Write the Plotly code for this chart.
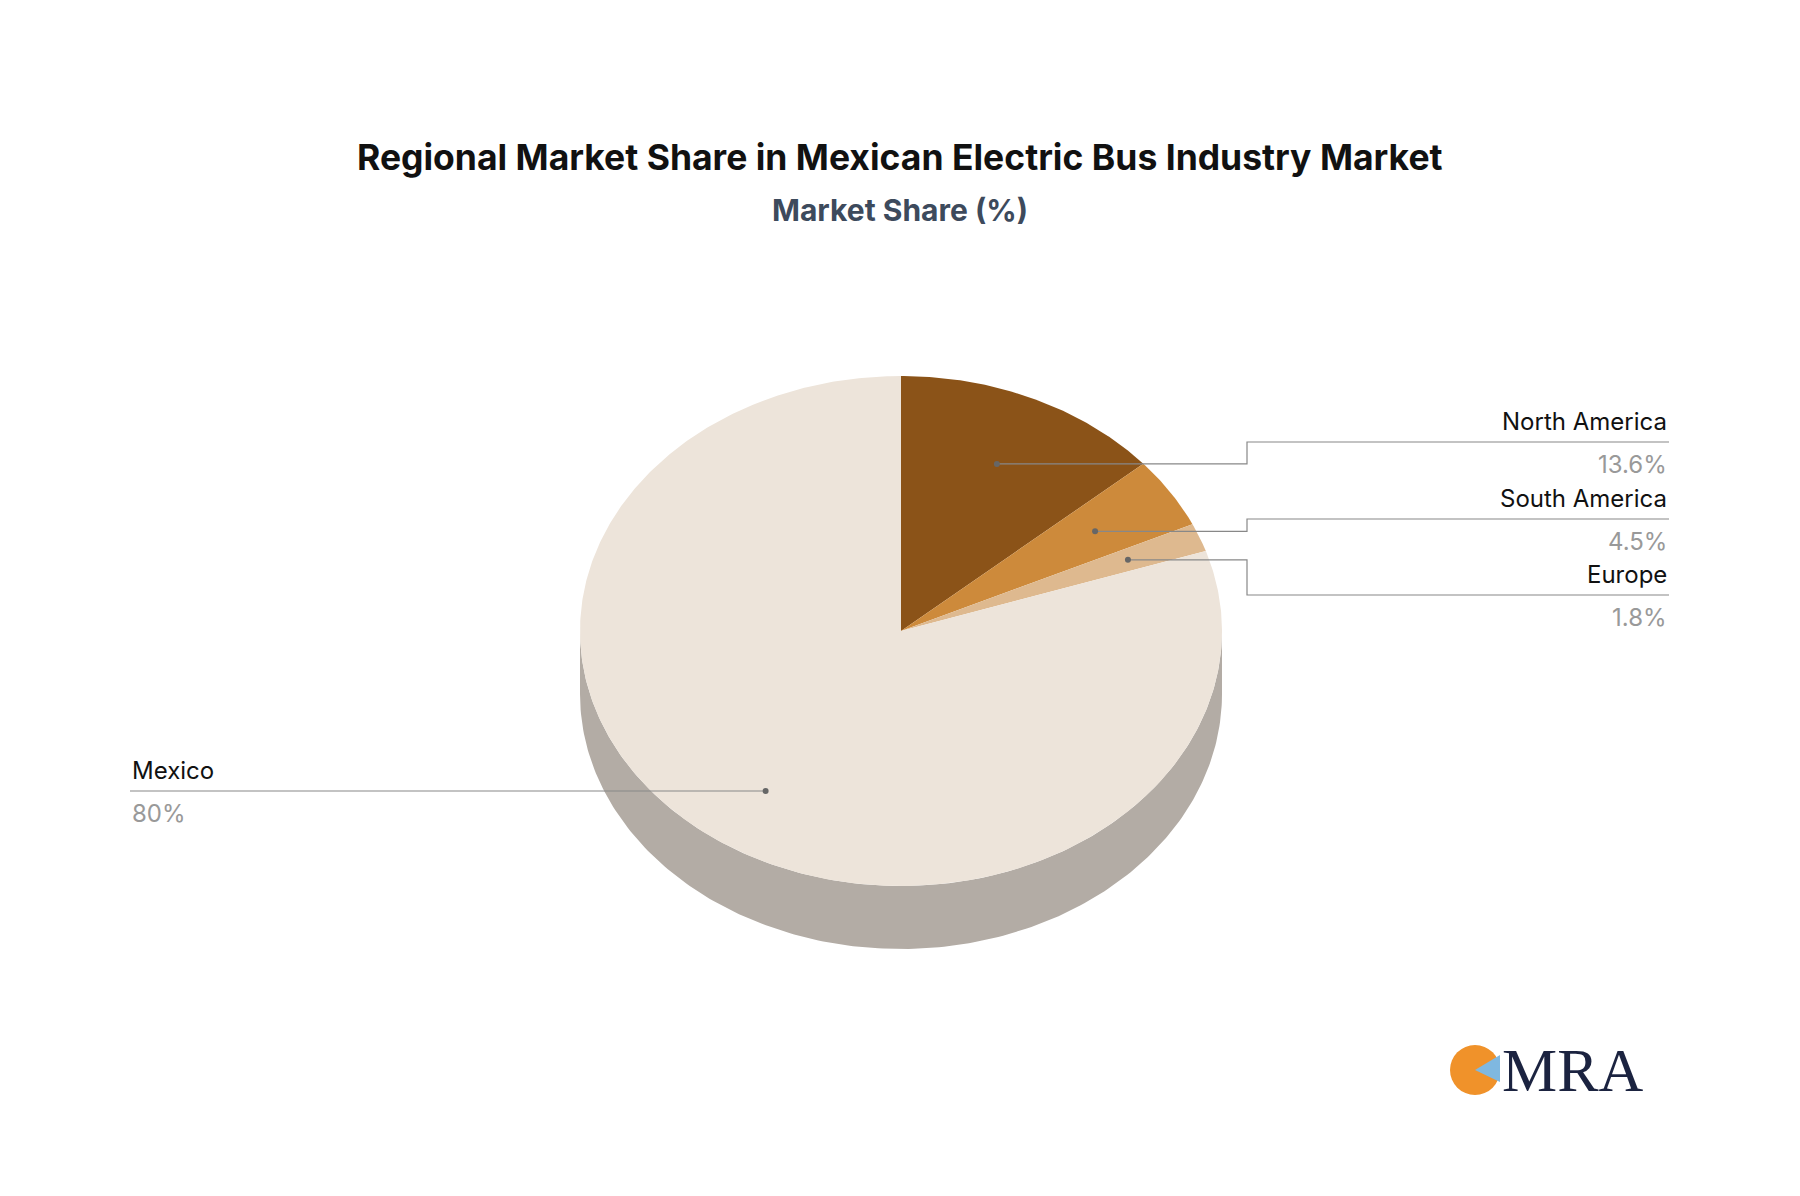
import numpy as np
import plotly.graph_objects as go

labels = ["North America", "South America", "Europe", "Mexico"]
values = [13.6, 4.5, 1.8, 80.0]
pct_text = ["13.6%", "4.5%", "1.8%", "80%"]
colors = ["#8B5318", "#CD8A3B", "#DEB98F", "#EDE4DA"]

W, H = 1800, 1196
OX, OY = -8, -8
cx, cy, rx, ry, depth = 901 + OX, 631 + OY, 321, 255, 63

def pt(theta_deg, r=1.0, dy=0):
    t = np.radians(theta_deg)
    return cx + r * rx * np.sin(t), cy - r * ry * np.cos(t) + dy

fig = go.Figure()
th = np.linspace(90, 270, 200)
xs_top, ys_top = pt(th)
xs_bot, ys_bot = pt(th[::-1], dy=depth)
fig.add_trace(go.Scatter(x=np.r_[xs_top, xs_bot], y=np.r_[ys_top, ys_bot], fill="toself",
                         fillcolor="#B3ACA5", line=dict(width=0), mode="lines", hoverinfo="skip"))
total = sum(values)
start = 0.0
mids = []
for lab, v, c in zip(labels, values, colors):
    a0 = start / total * 360
    a1 = (start + v) / total * 360
    th = np.linspace(a0, a1, max(int(a1 - a0) * 2, 4))
    x, y = pt(th)
    fig.add_trace(go.Scatter(x=np.r_[cx, x, cx], y=np.r_[cy, y, cy], fill="toself",
                             fillcolor=c, line=dict(width=0), mode="lines", name=lab))
    mids.append((a0 + a1) / 2)
    start += v

specs = {
    "North America": (442 + OY, 1247 + OX, 1669 + OX, "right"),
    "South America": (519 + OY, 1247 + OX, 1669 + OX, "right"),
    "Europe": (595 + OY, 1247 + OX, 1669 + OX, "right"),
    "Mexico": (791 + OY, None, 130 + OX, "left"),
}
radii = {"North America": 0.72, "South America": 0.72, "Europe": 0.76, "Mexico": 0.72}
for lab, pct, m in zip(labels, pct_text, mids):
    ly, ex, tx, side = specs[lab]
    ax_, ay_ = pt(m, radii[lab])
    if side == "right":
        xs = [ax_, ex, ex, tx]; ys = [ay_, ay_, ly, ly]
        xa = "right"
    else:
        ay_ = ly
        xs = [ax_, tx]; ys = [ly, ly]
        xa = "left"
    fig.add_trace(go.Scatter(x=xs, y=ys, mode="lines", line=dict(color="#888888", width=1.2), hoverinfo="skip"))
    fig.add_trace(go.Scatter(x=[ax_], y=[ay_], mode="markers", marker=dict(color="#666666", size=6), hoverinfo="skip"))
    fig.add_annotation(x=tx, y=ly - 4, text=lab, showarrow=False, xanchor=xa, yanchor="bottom",
                       font=dict(size=24, color="#111111", family="Inter"))
    fig.add_annotation(x=tx, y=ly + 6, text=pct, showarrow=False, xanchor=xa, yanchor="top",
                       font=dict(size=24, color="#999999", family="Inter"))

fig.add_annotation(x=900 + OX, y=157 + OY, text="<b>Regional Market Share in Mexican Electric Bus Industry Market</b>",
                   showarrow=False, font=dict(size=35.5, color="#111111", family="Inter"))
fig.add_annotation(x=900 + OX, y=210 + OY, text="<b>Market Share (%)</b>", showarrow=False,
                   font=dict(size=30, color="#3D4A5C", family="Inter"))
fig.add_shape(type="circle", x0=1450 + OX, x1=1500 + OX, y0=1045 + OY, y1=1095 + OY, fillcolor="#F0922A", line=dict(width=0))
fig.add_shape(type="path", path=f"M {1475+OX} {1070+OY} L {1500+OX} {1055+OY} L {1500+OX} {1082+OY} Z",
              fillcolor="#7FB8E0", line=dict(width=0))
fig.add_annotation(x=1500 + OX, y=1070 + OY, text="MRA", showarrow=False, xanchor="left",
                   font=dict(size=62, color="#1B2340", family="Liberation Serif"))

fig.update_layout(width=W, height=H, margin=dict(l=0, r=0, t=0, b=0), showlegend=False,
                  plot_bgcolor="white", paper_bgcolor="white",
                  xaxis=dict(range=[0, W], visible=False, fixedrange=True),
                  yaxis=dict(range=[H, 0], visible=False, fixedrange=True))
fig.write_html("out.html")
